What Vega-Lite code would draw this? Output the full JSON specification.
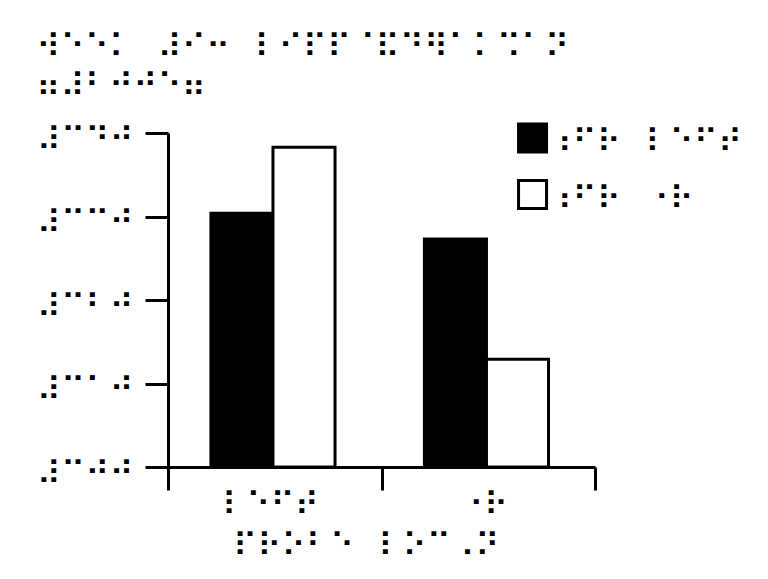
{
  "$schema": "https://vega.github.io/schema/vega-lite/v6.json",
  "width": 427,
  "height": 334,
  "autosize": {"type": "none"},
  "padding": {"left": 168, "top": 133, "right": 173, "bottom": 112},
  "background": "white",
  "title": {
    "text": ["⠺⠑⠑⠅⠀⠼⠊⠒⠀⠇⠊⠏⠏⠈⠯⠙⠻⠁⠅⠩⠁⠝", "⠶⠼⠃⠚⠚⠑⠶"],
    "anchor": "start",
    "frame": "bounds",
    "font": "DejaVu Sans",
    "fontSize": 33.1,
    "fontWeight": "normal",
    "color": "black",
    "lineHeight": 39,
    "offset": 17.5
  },
  "config": {
    "view": {"stroke": null},
    "axis": {
      "labelFont": "DejaVu Sans",
      "labelFontSize": 33.1,
      "labelColor": "black",
      "labelLimit": 400,
      "titleFont": "DejaVu Sans",
      "titleFontSize": 33.1,
      "titleFontWeight": "normal",
      "titleColor": "black",
      "domainColor": "black",
      "domainWidth": 3,
      "tickColor": "black",
      "tickWidth": 3,
      "tickSize": 23,
      "grid": false
    },
    "legend": {
      "labelFont": "DejaVu Sans",
      "labelFontSize": 33.1,
      "labelColor": "black",
      "labelLimit": 400
    }
  },
  "data": {
    "values": [
      {"location": "⠇⠑⠋⠞", "group": "⠰⠋⠗⠀⠇⠑⠋⠞", "rt": 330.4},
      {"location": "⠇⠑⠋⠞", "group": "⠰⠋⠗⠀⠐⠗", "rt": 338.3},
      {"location": "⠐⠗", "group": "⠰⠋⠗⠀⠇⠑⠋⠞", "rt": 327.3},
      {"location": "⠐⠗", "group": "⠰⠋⠗⠀⠐⠗", "rt": 312.9}
    ]
  },
  "mark": {"type": "bar", "stroke": "black", "strokeWidth": 3},
  "encoding": {
    "x": {
      "field": "location",
      "type": "nominal",
      "sort": ["⠇⠑⠋⠞", "⠐⠗"],
      "title": "⠏⠗⠕⠃⠑⠀⠇⠕⠉⠠⠝",
      "scale": {"paddingInner": 0, "paddingOuter": 0},
      "axis": {"labelAngle": 0, "tickBand": "extent", "labelPadding": -1, "labelOffset": -5, "titlePadding": 8, "titleX": 197.5}
    },
    "xOffset": {
      "field": "group",
      "type": "nominal",
      "sort": ["⠰⠋⠗⠀⠇⠑⠋⠞", "⠰⠋⠗⠀⠐⠗"],
      "scale": {"paddingInner": 0, "paddingOuter": 0.72, "align": 0.48}
    },
    "y": {
      "field": "rt",
      "type": "quantitative",
      "title": null,
      "scale": {"domain": [300, 340], "zero": false},
      "axis": {"values": [300, 310, 320, 330, 340], "format": "d", "labelPadding": 12, "labelOffset": 7, "labelExpr": "datum.value == 300 ? '⠼⠉⠚⠚' : datum.value == 310 ? '⠼⠉⠁⠚' : datum.value == 320 ? '⠼⠉⠃⠚' : datum.value == 330 ? '⠼⠉⠉⠚' : '⠼⠉⠙⠚'"}
    },
    "y2": {"datum": 300},
    "color": {
      "field": "group",
      "type": "nominal",
      "sort": ["⠰⠋⠗⠀⠇⠑⠋⠞", "⠰⠋⠗⠀⠐⠗"],
      "scale": {"range": ["black", "white"]},
      "legend": {
        "title": null,
        "orient": "none",
        "legendX": 348,
        "legendY": -11.5,
        "symbolType": "square",
        "symbolSize": 784,
        "symbolStrokeColor": "black",
        "symbolStrokeWidth": 3,
        "symbolOpacity": 1,
        "rowPadding": 13.5,
        "labelOffset": -1,
        "encode": {"labels": {"update": {"dy": {"value": 5}}}}
      }
    }
  }
}
